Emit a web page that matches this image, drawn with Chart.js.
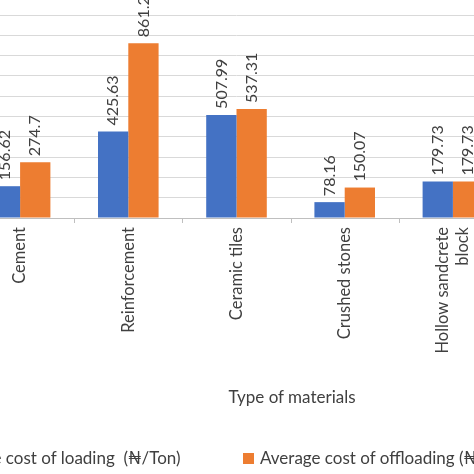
<!DOCTYPE html>
<html><head><meta charset="utf-8">
<script src="https://cdn.jsdelivr.net/npm/chart.js@4"></script>
<style>
html,body{margin:0;padding:0;width:474px;height:474px;overflow:hidden;background:#fff;font-family:Lato,"DejaVu Sans",sans-serif;color:#404040}
#wrap{position:absolute;left:-100px;top:0;width:700px;height:474px}
#title{position:absolute;top:386px;left:192px;width:200px;text-align:center;font-size:17px}
.leg{position:absolute;top:447px;font-size:17px;white-space:nowrap}
.sw{display:inline-block;width:11px;height:11px;margin-right:6px}
</style></head><body>
<div id="wrap"><canvas id="c"></canvas></div>
<div id="title">Type of materials</div>
<div class="leg" style="left:-76px"><span class="sw" style="background:#4472C4"></span>Average cost of loading&nbsp;&nbsp;(₦/Ton)</div>
<div class="leg" style="left:243px"><span class="sw" style="background:#ED7D31"></span>Average cost of offloading (₦/Ton)</div>
<script>
const categories=[["Cement"],["Reinforcement"],["Ceramic tiles"],["Crushed stones"],["Hollow sandcrete","block"]];
const loading=[156.62,425.63,507.99,78.16,179.73];
const offloading=[274.7,861.2,537.31,150.07,179.73];
const yTicks={min:0,max:1000,step:100};
const deco={id:'deco',afterDatasetsDraw(ch){
  const c=ch.ctx,xs=ch.scales.x,ys=ch.scales.y,base=ys.getPixelForValue(0);
  c.save();c.fillStyle='#404040';c.font='16px Lato';c.textBaseline='middle';
  ch.data.datasets.forEach((d,i)=>{ch.getDatasetMeta(i).data.forEach((b,j)=>{
    c.save();c.translate(b.x,b.y-6);c.rotate(-Math.PI/2);c.textAlign='left';c.fillText(String(d.data[j]),0,0);c.restore();});});
  c.strokeStyle='#bfbfbf';c.lineWidth=1;
  for(let j=0;j<=categories.length;j++){const x=Math.round(xs.getPixelForValue(j-0.5))+0.5;c.beginPath();c.moveTo(x,base);c.lineTo(x,base+5);c.stroke();}
  c.font='16.5px Lato';
  categories.forEach((lab,j)=>{const x=xs.getPixelForValue(j);c.save();c.translate(x,base+9);c.rotate(-Math.PI/2);c.textAlign='right';
    const n=lab.length;lab.forEach((t,k)=>c.fillText(t,0,(k-(n-1)/2)*20));c.restore();});
  c.restore();}};
new Chart(document.getElementById('c'),{type:'bar',
 data:{labels:categories.map(l=>l.join(' ')),datasets:[
  {label:'Average cost of loading (₦/Ton)',data:loading,backgroundColor:'#4472C4'},
  {label:'Average cost of offloading (₦/Ton)',data:offloading,backgroundColor:'#ED7D31'}]},
 options:{responsive:true,maintainAspectRatio:false,animation:false,
  layout:{padding:{left:66,right:93,top:15,bottom:248}},
  datasets:{bar:{categoryPercentage:0.56,barPercentage:1}},
  plugins:{legend:{display:false},tooltip:{enabled:false}},
  scales:{x:{ticks:{display:false},grid:{display:false},border:{color:'#bfbfbf'}},
   y:{min:yTicks.min,max:yTicks.max,ticks:{display:false,stepSize:yTicks.step},grid:{color:'#d9d9d9',tickLength:0},border:{display:false}}}},
 plugins:[deco]});
</script></body></html>
